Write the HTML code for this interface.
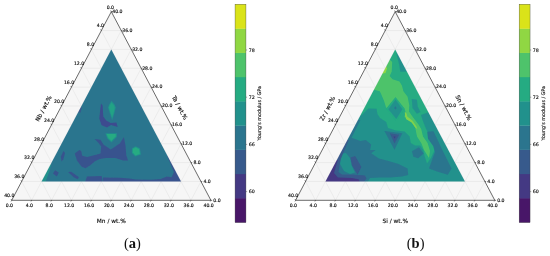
<!DOCTYPE html>
<html><head><meta charset="utf-8"><title>Ternary contour maps of Young's modulus</title>
<style>html,body{margin:0;padding:0;background:#fff}svg{display:block}</style></head>
<body>
<svg width="550" height="256" viewBox="0 0 550 256">
<defs><filter id="soft" x="-5%" y="-5%" width="110%" height="110%"><feGaussianBlur stdDeviation="0.4"/></filter></defs>
<rect width="550" height="256" fill="#fff"/>
<polygon points="11.7,200.3 210.9,200.3 111.3,11.7" fill="#f6f6f6"/>
<path d="M21.66,181.44L200.94,181.44 M31.62,200.3L121.26,30.56 M190.98,200.3L101.34,30.56 M31.62,162.58L190.98,162.58 M51.54,200.3L131.22,49.42 M171.06,200.3L91.38,49.42 M41.58,143.72L181.02,143.72 M71.46,200.3L141.18,68.28 M151.14,200.3L81.42,68.28 M51.54,124.86L171.06,124.86 M91.38,200.3L151.14,87.14 M131.22,200.3L71.46,87.14 M61.5,106L161.1,106 M111.3,200.3L161.1,106 M111.3,200.3L61.5,106 M71.46,87.14L151.14,87.14 M131.22,200.3L171.06,124.86 M91.38,200.3L51.54,124.86 M81.42,68.28L141.18,68.28 M151.14,200.3L181.02,143.72 M71.46,200.3L41.58,143.72 M91.38,49.42L131.22,49.42 M171.06,200.3L190.98,162.58 M51.54,200.3L31.62,162.58 M101.34,30.56L121.26,30.56 M190.98,200.3L200.94,181.44 M31.62,200.3L21.66,181.44" stroke="#dcdcdc" stroke-width="0.4" fill="none"/>
<clipPath id="clipA"><polygon points="111.3,49.42 41.58,181.44 181.02,181.44"/></clipPath>
<g clip-path="url(#clipA)"><g filter="url(#soft)">
<rect x="35.58" y="43.42" width="151.44" height="144.02" fill="#2b758e"/>
<polygon points="111.5,100.8 114.6,104.6 115.8,107.6 114.6,112.5 112.2,120.2 109.6,112.5 108,107.6 109.2,104.6" fill="#21918c"/>
<polygon points="111.5,102.6 113.8,105.2 114.7,107.8 113.7,112.2 112.1,117.6 110.4,112.2 109.1,107.8 109.9,105.2" fill="#24a385"/>
<polygon points="101,103.6 102.6,105.5 102.9,110.5 103.3,116.4 106.2,120.6 110.75,123 116.4,122.6 117.7,127 111,125 107,127.4 101.6,125.2 99.3,118.6 100.2,110" fill="#3d4c8f"/>
<polygon points="81,106.2 81.8,108 80.6,112.5 76.5,112.5 79.5,106.2" fill="#375a8c"/>
<polygon points="105.4,133.2 117,133.2 116.8,137 111.4,142.4 107.3,138.6" fill="#21918c"/>
<polygon points="106.6,134 115.9,134 115.7,136.6 111.4,140.9 108.2,138" fill="#25ab82"/>
<polygon points="94.7,139.1 100.5,139.7 103.6,144.8 110.9,149.5 120,143.3 123.9,137 125.5,145.6 126.25,155 128.1,160.5 123.1,160.5 115.3,158.1 105.9,158.1 99.7,158.9 95,161.25 90.3,165.2 85.6,168.3 81.7,166.7 77,160.5 74.7,153.4 79.4,150 81.25,151.1 82.2,155.8 87.2,156.9 95,155 100.5,153.4 101.25,146.4 98.1,142.5" fill="#39538e"/>
<polygon points="63.4,151.1 65,152.9 63.4,159.2 61.6,161.5 60.8,156.8" fill="#39538e"/>
<polygon points="55,170.2 58.8,172.6 56.8,176.4 53,173.4" fill="#39538e"/>
<polygon points="68.1,172 71.25,171.7 79,177.2 77.5,179.2 73.6,177.2" fill="#39538e"/>
<polygon points="86.9,176.4 101.7,176 102.8,184 84.5,184" fill="#39538e"/>
<polygon points="51.2,163.5 49.6,171 44.8,184 36,184 48.5,163.5" fill="#21918c"/>
<polygon points="132,148.25 135.6,146.2 139.9,148.25 141,154.5 135.2,156.6 131.8,152.9" fill="#21918c"/>
<polygon points="132.9,148.8 135.6,147.3 139,148.9 139.9,153.9 135.4,155.5 132.8,152.6" fill="#25ab82"/>
<polygon points="102.8,184 103,177.6 120,177.8 129.4,178.4 135.6,179.4 151.25,179.7 160.6,178.9 166.9,176.6 171.6,177.3 173.9,171.9 170,162.5 167.2,156.2 170,156.2 185,184" fill="#39538e"/>
</g></g>
<polygon points="11.7,200.3 210.9,200.3 111.3,11.7" fill="none" stroke="#1c1c1c" stroke-width="0.65" stroke-linejoin="miter"/>
<path d="M11.7,200.3l-0.61,1.15 M111.3,11.7l-0.61,-1.15 M210.9,200.3l1.3,0 M31.62,200.3l-0.61,1.15 M101.34,30.56l-0.61,-1.15 M200.94,181.44l1.3,0 M51.54,200.3l-0.61,1.15 M91.38,49.42l-0.61,-1.15 M190.98,162.58l1.3,0 M71.46,200.3l-0.61,1.15 M81.42,68.28l-0.61,-1.15 M181.02,143.72l1.3,0 M91.38,200.3l-0.61,1.15 M71.46,87.14l-0.61,-1.15 M171.06,124.86l1.3,0 M111.3,200.3l-0.61,1.15 M61.5,106l-0.61,-1.15 M161.1,106l1.3,0 M131.22,200.3l-0.61,1.15 M51.54,124.86l-0.61,-1.15 M151.14,87.14l1.3,0 M151.14,200.3l-0.61,1.15 M41.58,143.72l-0.61,-1.15 M141.18,68.28l1.3,0 M171.06,200.3l-0.61,1.15 M31.62,162.58l-0.61,-1.15 M131.22,49.42l1.3,0 M190.98,200.3l-0.61,1.15 M21.66,181.44l-0.61,-1.15 M121.26,30.56l1.3,0 M210.9,200.3l-0.61,1.15 M11.7,200.3l-0.61,-1.15 M111.3,11.7l1.3,0" stroke="#1c1c1c" stroke-width="0.55" fill="none"/>
<g font-family='"DejaVu Sans","Liberation Sans",sans-serif' font-size="4.6" fill="#111" stroke="#111" stroke-width="0.15"><text x="9.4" y="207.05" text-anchor="middle">0.0</text><text x="114" y="8.55" text-anchor="end">0.0</text><text x="217" y="201.55" text-anchor="middle">0.0</text><text x="29.32" y="207.05" text-anchor="middle">4.0</text><text x="104.04" y="27.41" text-anchor="end">4.0</text><text x="207.04" y="182.69" text-anchor="middle">4.0</text><text x="49.24" y="207.05" text-anchor="middle">8.0</text><text x="94.08" y="46.27" text-anchor="end">8.0</text><text x="197.08" y="163.83" text-anchor="middle">8.0</text><text x="69.16" y="207.05" text-anchor="middle">12.0</text><text x="84.12" y="65.13" text-anchor="end">12.0</text><text x="187.12" y="144.97" text-anchor="middle">12.0</text><text x="89.08" y="207.05" text-anchor="middle">16.0</text><text x="74.16" y="83.99" text-anchor="end">16.0</text><text x="177.16" y="126.11" text-anchor="middle">16.0</text><text x="109" y="207.05" text-anchor="middle">20.0</text><text x="64.2" y="102.85" text-anchor="end">20.0</text><text x="167.2" y="107.25" text-anchor="middle">20.0</text><text x="128.92" y="207.05" text-anchor="middle">24.0</text><text x="54.24" y="121.71" text-anchor="end">24.0</text><text x="157.24" y="88.39" text-anchor="middle">24.0</text><text x="148.84" y="207.05" text-anchor="middle">28.0</text><text x="44.28" y="140.57" text-anchor="end">28.0</text><text x="147.28" y="69.53" text-anchor="middle">28.0</text><text x="168.76" y="207.05" text-anchor="middle">32.0</text><text x="34.32" y="159.43" text-anchor="end">32.0</text><text x="137.32" y="50.67" text-anchor="middle">32.0</text><text x="188.68" y="207.05" text-anchor="middle">36.0</text><text x="24.36" y="178.29" text-anchor="end">36.0</text><text x="127.36" y="31.81" text-anchor="middle">36.0</text><text x="208.6" y="207.05" text-anchor="middle">40.0</text><text x="14.4" y="197.15" text-anchor="end">40.0</text><text x="117.4" y="12.95" text-anchor="middle">40.0</text></g>
<g font-family='"DejaVu Sans","Liberation Sans",sans-serif' font-size="5.85" fill="#111" stroke="#111" stroke-width="0.15" text-anchor="middle">
<text x="111.3" y="222.7">Mn / wt.%</text>
<text transform="translate(43.5,108.5) rotate(-62.2)" y="2.1">Nb / wt.%</text>
<text transform="translate(179.7,107.6) rotate(62.2)" y="2.1">Ta / wt.%</text>
</g>
<rect x="235.05" y="198.07" width="10.9" height="24.53" fill="#481668"/>
<rect x="235.05" y="173.83" width="10.9" height="24.53" fill="#443983"/>
<rect x="235.05" y="149.6" width="10.9" height="24.53" fill="#375a8c"/>
<rect x="235.05" y="125.37" width="10.9" height="24.53" fill="#2b758e"/>
<rect x="235.05" y="101.13" width="10.9" height="24.53" fill="#21918c"/>
<rect x="235.05" y="76.9" width="10.9" height="24.53" fill="#25ab82"/>
<rect x="235.05" y="52.67" width="10.9" height="24.53" fill="#4ec36b"/>
<rect x="235.05" y="28.43" width="10.9" height="24.53" fill="#90d743"/>
<rect x="235.05" y="4.2" width="10.9" height="24.53" fill="#dae319"/>
<rect x="235.05" y="4.2" width="10.9" height="218.1" fill="none" stroke="#3a3a3a" stroke-width="0.35"/>
<path d="M245.95,50h1.2 M245.95,97.2h1.2 M245.95,144.4h1.2 M245.95,191.6h1.2" stroke="#2a2a2a" stroke-width="0.4" fill="none"/>
<g font-family='"DejaVu Sans","Liberation Sans",sans-serif' font-size="4.6" fill="#111" stroke="#111" stroke-width="0.15"><text x="248.65" y="51.75" font-size="4.75">78</text><text x="248.65" y="98.95" font-size="4.75">72</text><text x="248.65" y="146.15" font-size="4.75">66</text><text x="248.65" y="193.35" font-size="4.75">60</text>
<text transform="translate(259.35,113.25) rotate(-90)" y="1.75" font-size="4.8" text-anchor="middle">Young's modulus / GPa</text></g>
<text x="132.4" y="247.6" text-anchor="middle" font-family='"Liberation Serif","DejaVu Serif",serif' font-size="14.5" fill="#111">(<tspan font-weight="bold">a</tspan>)</text>
<polygon points="295.6,200.3 494.8,200.3 395.2,11.7" fill="#f6f6f6"/>
<path d="M305.56,181.44L484.84,181.44 M315.52,200.3L405.16,30.56 M474.88,200.3L385.24,30.56 M315.52,162.58L474.88,162.58 M335.44,200.3L415.12,49.42 M454.96,200.3L375.28,49.42 M325.48,143.72L464.92,143.72 M355.36,200.3L425.08,68.28 M435.04,200.3L365.32,68.28 M335.44,124.86L454.96,124.86 M375.28,200.3L435.04,87.14 M415.12,200.3L355.36,87.14 M345.4,106L445,106 M395.2,200.3L445,106 M395.2,200.3L345.4,106 M355.36,87.14L435.04,87.14 M415.12,200.3L454.96,124.86 M375.28,200.3L335.44,124.86 M365.32,68.28L425.08,68.28 M435.04,200.3L464.92,143.72 M355.36,200.3L325.48,143.72 M375.28,49.42L415.12,49.42 M454.96,200.3L474.88,162.58 M335.44,200.3L315.52,162.58 M385.24,30.56L405.16,30.56 M474.88,200.3L484.84,181.44 M315.52,200.3L305.56,181.44" stroke="#dcdcdc" stroke-width="0.4" fill="none"/>
<clipPath id="clipB"><polygon points="395.2,49.42 325.48,181.44 464.92,181.44"/></clipPath>
<g clip-path="url(#clipB)"><g filter="url(#soft)">
<rect x="319.48" y="43.42" width="151.44" height="144.02" fill="#21918c"/>
<polygon points="395.2,46.42 357.81,115.5 361.9,114.9 368.4,108.5 376.6,108.8 377.4,114 380,118 386.2,122.1 388,128 396,130.5 404.5,131.5 409.6,136.5 410.8,143 415,145.6 420,145.4 423.3,150 424.5,156 427,163.5 431,158 434.3,151 432.5,140 426.25,129.2 423.1,121.4 421,115 430.53,111.6 404.79,60" fill="#25ab82"/>
<polygon points="387.27,59.7 389.8,59.7 392.2,62 391.7,71.4 389.7,76.1 392.5,79.25 399.5,81.6 401.9,85.5 403.4,91.25 407.6,96.7 409.3,105.3 409,111.6 412.4,116.6 418.5,124.6 421.2,129 423,136.5 427.6,143 430,151 429,158 424,150 421.5,143.5 417,136.5 415.3,128 412.4,122.2 407.5,117 404.4,117.2 405.6,112 404.5,108.5 395.5,97.3 387.5,107 386.2,108.1 384,100.7 381.1,93.9 379.8,91.25 373.9,89.7 371.43,89.7" fill="#4ec36b"/>
<polygon points="386.1,66.3 387,68.5 385.5,73 382.6,73.4 379,73.4 383,66.3" fill="#90d743"/>
<polygon points="404.8,111.8 406.4,113.2 407.3,116.6 412.3,120.4 416.5,126.6 417.2,129 415.2,127.6 411.6,122.6 406.2,119.3 405,116" fill="#82d24c"/>
<polygon points="395.5,97.3 404.5,108.8 396.3,121 386.4,108.8" fill="#25ab82"/>
<polygon points="395.5,99.5 402.4,109.2 396.3,118.9 388.4,109.2" fill="#21918c"/>
<polygon points="395.3,106.2 396.6,108 395.4,109.6 394.2,108" fill="#2b758e"/>
<polygon points="395.2,46 398,46 409.5,71.6 400.3,71.75 399.2,64.4 396.9,55.8" fill="#21918c"/>
<polygon points="411.8,99 416.9,99.8 417.7,106.5 420.4,112 416.9,113.7 412.5,108" fill="#21918c"/>
<polygon points="355.43,120 360.43,120 351.54,137.8 360.3,141.1 365.8,140 371.2,144.4 370.1,149.9 375.6,149.9 371.2,153.2 378.9,158.6 387.6,160.8 398.6,164 407.6,168.5 408.2,175 402,176.6 390,177.4 380,177.6 370,178 366,184.5 321.38,184.5" fill="#2b758e"/>
<polygon points="342,153.5 346,153 350,158 351.6,165.3 355,172.5 350,174 344,171 340,164" fill="#21918c"/>
<polygon points="384.4,131 402.3,133.3 394.5,149.7" fill="#2b758e"/>
<polygon points="389.8,133.3 399.2,134.8 394.5,143.4" fill="#375a8c"/>
<polygon points="393.6,136.4 395.6,136.6 394.6,138.6" fill="#443983"/>
<polygon points="411.9,151.25 418.9,147.3 423.6,153.6 418.1,158.3 413.4,156.7" fill="#2b758e"/>
<polygon points="427.25,131.7 433.5,131.3 442.31,150 451.52,168.4 447.8,174.7 437,171.5 429,168.4 432,160 435,152 433.5,146.6 428,138.75" fill="#2b758e"/>
<polygon points="350.5,157.5 355.2,155.9 361.4,166.9 357.5,174.7 352,165.3" fill="#375a8c"/>
<polygon points="344.87,140 348.87,140 340.31,160 338.5,172 342,174.5 352,174.6 365,175.5 366.5,178.6 362,184.5 321.38,184.5" fill="#375a8c"/>
<polygon points="334.31,160 337.81,160 334,173 338,177.6 352,178 359,179.5 360,184.5 321.38,184.5" fill="#443983"/>
</g></g>
<polygon points="295.6,200.3 494.8,200.3 395.2,11.7" fill="none" stroke="#1c1c1c" stroke-width="0.65" stroke-linejoin="miter"/>
<path d="M295.6,200.3l-0.61,1.15 M395.2,11.7l-0.61,-1.15 M494.8,200.3l1.3,0 M315.52,200.3l-0.61,1.15 M385.24,30.56l-0.61,-1.15 M484.84,181.44l1.3,0 M335.44,200.3l-0.61,1.15 M375.28,49.42l-0.61,-1.15 M474.88,162.58l1.3,0 M355.36,200.3l-0.61,1.15 M365.32,68.28l-0.61,-1.15 M464.92,143.72l1.3,0 M375.28,200.3l-0.61,1.15 M355.36,87.14l-0.61,-1.15 M454.96,124.86l1.3,0 M395.2,200.3l-0.61,1.15 M345.4,106l-0.61,-1.15 M445,106l1.3,0 M415.12,200.3l-0.61,1.15 M335.44,124.86l-0.61,-1.15 M435.04,87.14l1.3,0 M435.04,200.3l-0.61,1.15 M325.48,143.72l-0.61,-1.15 M425.08,68.28l1.3,0 M454.96,200.3l-0.61,1.15 M315.52,162.58l-0.61,-1.15 M415.12,49.42l1.3,0 M474.88,200.3l-0.61,1.15 M305.56,181.44l-0.61,-1.15 M405.16,30.56l1.3,0 M494.8,200.3l-0.61,1.15 M295.6,200.3l-0.61,-1.15 M395.2,11.7l1.3,0" stroke="#1c1c1c" stroke-width="0.55" fill="none"/>
<g font-family='"DejaVu Sans","Liberation Sans",sans-serif' font-size="4.6" fill="#111" stroke="#111" stroke-width="0.15"><text x="293.3" y="207.05" text-anchor="middle">0.0</text><text x="397.9" y="8.55" text-anchor="end">0.0</text><text x="500.9" y="201.55" text-anchor="middle">0.0</text><text x="313.22" y="207.05" text-anchor="middle">4.0</text><text x="387.94" y="27.41" text-anchor="end">4.0</text><text x="490.94" y="182.69" text-anchor="middle">4.0</text><text x="333.14" y="207.05" text-anchor="middle">8.0</text><text x="377.98" y="46.27" text-anchor="end">8.0</text><text x="480.98" y="163.83" text-anchor="middle">8.0</text><text x="353.06" y="207.05" text-anchor="middle">12.0</text><text x="368.02" y="65.13" text-anchor="end">12.0</text><text x="471.02" y="144.97" text-anchor="middle">12.0</text><text x="372.98" y="207.05" text-anchor="middle">16.0</text><text x="358.06" y="83.99" text-anchor="end">16.0</text><text x="461.06" y="126.11" text-anchor="middle">16.0</text><text x="392.9" y="207.05" text-anchor="middle">20.0</text><text x="348.1" y="102.85" text-anchor="end">20.0</text><text x="451.1" y="107.25" text-anchor="middle">20.0</text><text x="412.82" y="207.05" text-anchor="middle">24.0</text><text x="338.14" y="121.71" text-anchor="end">24.0</text><text x="441.14" y="88.39" text-anchor="middle">24.0</text><text x="432.74" y="207.05" text-anchor="middle">28.0</text><text x="328.18" y="140.57" text-anchor="end">28.0</text><text x="431.18" y="69.53" text-anchor="middle">28.0</text><text x="452.66" y="207.05" text-anchor="middle">32.0</text><text x="318.22" y="159.43" text-anchor="end">32.0</text><text x="421.22" y="50.67" text-anchor="middle">32.0</text><text x="472.58" y="207.05" text-anchor="middle">36.0</text><text x="308.26" y="178.29" text-anchor="end">36.0</text><text x="411.26" y="31.81" text-anchor="middle">36.0</text><text x="492.5" y="207.05" text-anchor="middle">40.0</text><text x="298.3" y="197.15" text-anchor="end">40.0</text><text x="401.3" y="12.95" text-anchor="middle">40.0</text></g>
<g font-family='"DejaVu Sans","Liberation Sans",sans-serif' font-size="5.85" fill="#111" stroke="#111" stroke-width="0.15" text-anchor="middle">
<text x="395.2" y="222.7">Si / wt.%</text>
<text transform="translate(327.4,108.5) rotate(-62.2)" y="2.1">Zr / wt.%</text>
<text transform="translate(463.6,107.6) rotate(62.2)" y="2.1">Sn / wt.%</text>
</g>
<rect x="519.15" y="198.07" width="10.9" height="24.53" fill="#481668"/>
<rect x="519.15" y="173.83" width="10.9" height="24.53" fill="#443983"/>
<rect x="519.15" y="149.6" width="10.9" height="24.53" fill="#375a8c"/>
<rect x="519.15" y="125.37" width="10.9" height="24.53" fill="#2b758e"/>
<rect x="519.15" y="101.13" width="10.9" height="24.53" fill="#21918c"/>
<rect x="519.15" y="76.9" width="10.9" height="24.53" fill="#25ab82"/>
<rect x="519.15" y="52.67" width="10.9" height="24.53" fill="#4ec36b"/>
<rect x="519.15" y="28.43" width="10.9" height="24.53" fill="#90d743"/>
<rect x="519.15" y="4.2" width="10.9" height="24.53" fill="#dae319"/>
<rect x="519.15" y="4.2" width="10.9" height="218.1" fill="none" stroke="#3a3a3a" stroke-width="0.35"/>
<path d="M530.05,50h1.2 M530.05,97.2h1.2 M530.05,144.4h1.2 M530.05,191.6h1.2" stroke="#2a2a2a" stroke-width="0.4" fill="none"/>
<g font-family='"DejaVu Sans","Liberation Sans",sans-serif' font-size="4.6" fill="#111" stroke="#111" stroke-width="0.15"><text x="532.75" y="51.75" font-size="4.75">78</text><text x="532.75" y="98.95" font-size="4.75">72</text><text x="532.75" y="146.15" font-size="4.75">66</text><text x="532.75" y="193.35" font-size="4.75">60</text>
<text transform="translate(543.45,113.25) rotate(-90)" y="1.75" font-size="4.8" text-anchor="middle">Young's modulus / GPa</text></g>
<text x="415.6" y="247.6" text-anchor="middle" font-family='"Liberation Serif","DejaVu Serif",serif' font-size="14.5" fill="#111">(<tspan font-weight="bold">b</tspan>)</text>
</svg>
</body></html>
